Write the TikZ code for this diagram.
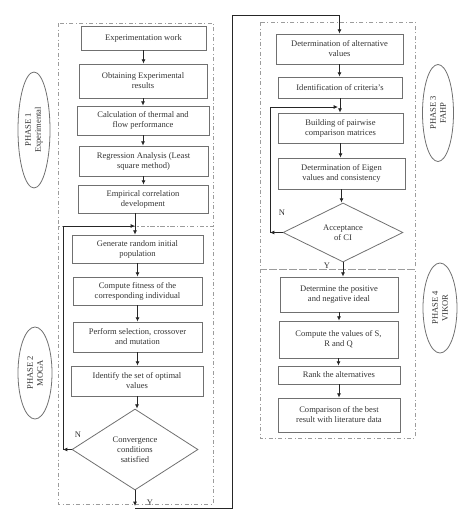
\documentclass[tikz,border=0pt]{standalone}
\usepackage{fontspec}
\setmainfont{Liberation Serif}
\usepackage{xcolor}
\usepackage{tikz}
\usetikzlibrary{arrows.meta,positioning,shapes.geometric,calc}

\definecolor{edgegray}{HTML}{707070}
\definecolor{txtgray}{HTML}{333333}
\definecolor{phasegray}{HTML}{9C9C9C}

\begin{document}
\begin{tikzpicture}[
  x=0.75pt, y=-0.75pt,
  font=\fontsize{6.4}{7.5}\selectfont,
  every node/.style={text=txtgray},
  stage/.style 2 args={draw=edgegray,line width=0.6pt,align=center,inner sep=1pt,
    minimum width=#1*0.75pt,minimum height=#2*0.75pt},
  decision/.style 2 args={diamond,draw=edgegray,line width=0.6pt,align=center,inner sep=0pt,
    minimum width=#1*0.75pt,minimum height=#2*0.75pt},
  phase/.style 2 args={ellipse,draw=edgegray,line width=0.6pt,align=center,inner sep=0pt,
    rotate=90,minimum width=#1*0.75pt,minimum height=#2*0.75pt},
  phaseframe/.style={draw=phasegray,dash dot,line width=0.5pt},
  link/.style={draw=black!85,line width=0.6pt,-{Latex[length=3.2pt,width=3pt]}}
]
\useasboundingbox (0,0) rectangle (474,526);

\draw[phaseframe] (58,23) rectangle (213,226);
\draw[phaseframe] (58,226) rectangle (213,504);
\draw[phaseframe] (260,22) rectangle (415,269);
\draw[phaseframe] (260,269) rectangle (415,438);

\node[phase={116}{32}] (P1) at (34,130) {PHASE 1\\Experimental};
\node[phase={92}{34}] (P2) at (35,373) {PHASE 2\\MOGA};
\node[phase={97}{31}] (P3) at (438,113) {PHASE 3\\FAHP};
\node[phase={90}{34}] (P4) at (440,308) {PHASE 4\\VIKOR};

\node[stage={125}{24}] (E1) at (143.5,38) {Experimentation work};
\node[stage={128}{34}] (E2) at (143,81) {Obtaining Experimental\\results};
\node[stage={132}{29}] (E3) at (143,120.5) {Calculation of thermal and\\flow performance};
\node[stage={129}{30}] (E4) at (143.5,161) {Regression Analysis (Least\\square method)};
\node[stage={130}{28}] (E5) at (143,199) {Empirical correlation\\development};

\node[stage={131}{28}] (M1) at (137.5,249) {Generate random initial\\population};
\node[stage={129}{28}] (M2) at (137.5,291) {Compute fitness of the\\corresponding individual};
\node[stage={129}{30}] (M3) at (137.5,337) {Perform selection, crossover\\and mutation};
\node[stage={132}{30}] (M4) at (137,381) {Identify the set of optimal\\values};
\node[decision={126}{81}] (M5) at (135,449.5) {Convergence\\conditions\\satisfied};

\node[stage={127}{30}] (F1) at (339.5,49) {Determination of alternative\\values};
\node[stage={124}{21}] (F2) at (340,87.5) {Identification of criteria's};
\node[stage={125}{30}] (F3) at (340.5,128) {Building of pairwise\\comparison matrices};
\node[stage={127}{31}] (F4) at (341.5,173.5) {Determination of Eigen\\values and consistency};
\node[decision={120}{59}] (F5) at (343,232.5) {Acceptance\\of CI};

\node[stage={118}{35}] (V1) at (339,294.5) {Determine the positive\\and negative ideal};
\node[stage={119}{37}] (V2) at (338.5,339.5) {Compute the values of S,\\R and Q};
\node[stage={122}{18}] (V3) at (339,375) {Rank the alternatives};
\node[stage={122}{34}] (V4) at (339,415) {Comparison of the best\\result with literature data};

\node (N2) at (78,435) {N};
\node (Y2) at (150,503) {Y};
\node (N3) at (282,213) {N};
\node (Y3) at (327,266) {Y};

\coordinate (M5n) at (63,449.5);
\coordinate (M5j) at (135,226);
\coordinate (M5y) at (135,506);
\coordinate (L1) at (232,508);
\coordinate (L2) at (232,15);
\coordinate (F5n) at (270,232.5);
\coordinate (F5j) at (338,107);

\foreach \a/\b in {E1/E2,E2/E3,E3/E4,E4/E5,M1/M2,M2/M3,M3/M4,M4/M5,
                   F1/F2,F2/F3,F3/F4,F4/F5,F5/V1,V1/V2,V2/V3,V3/V4}
  \draw[link] (\a.south) -- (\a.south |- \b.north);

\draw[link] (E5.south -| M5j) -- (M5j |- M1.north);
\draw[link] (M5.west) -- (M5n);
\draw[link] (M5n) |- (M5j);
\draw[link] (M5.south) -- (M5y);
\draw[link] (M5y |- L1) -- (L1) -- (L2) -| (F1.north);
\draw[link] (F5.west) -- (F5n);
\draw[link] (F5n) |- (F5j);
\end{tikzpicture}
\end{document}
